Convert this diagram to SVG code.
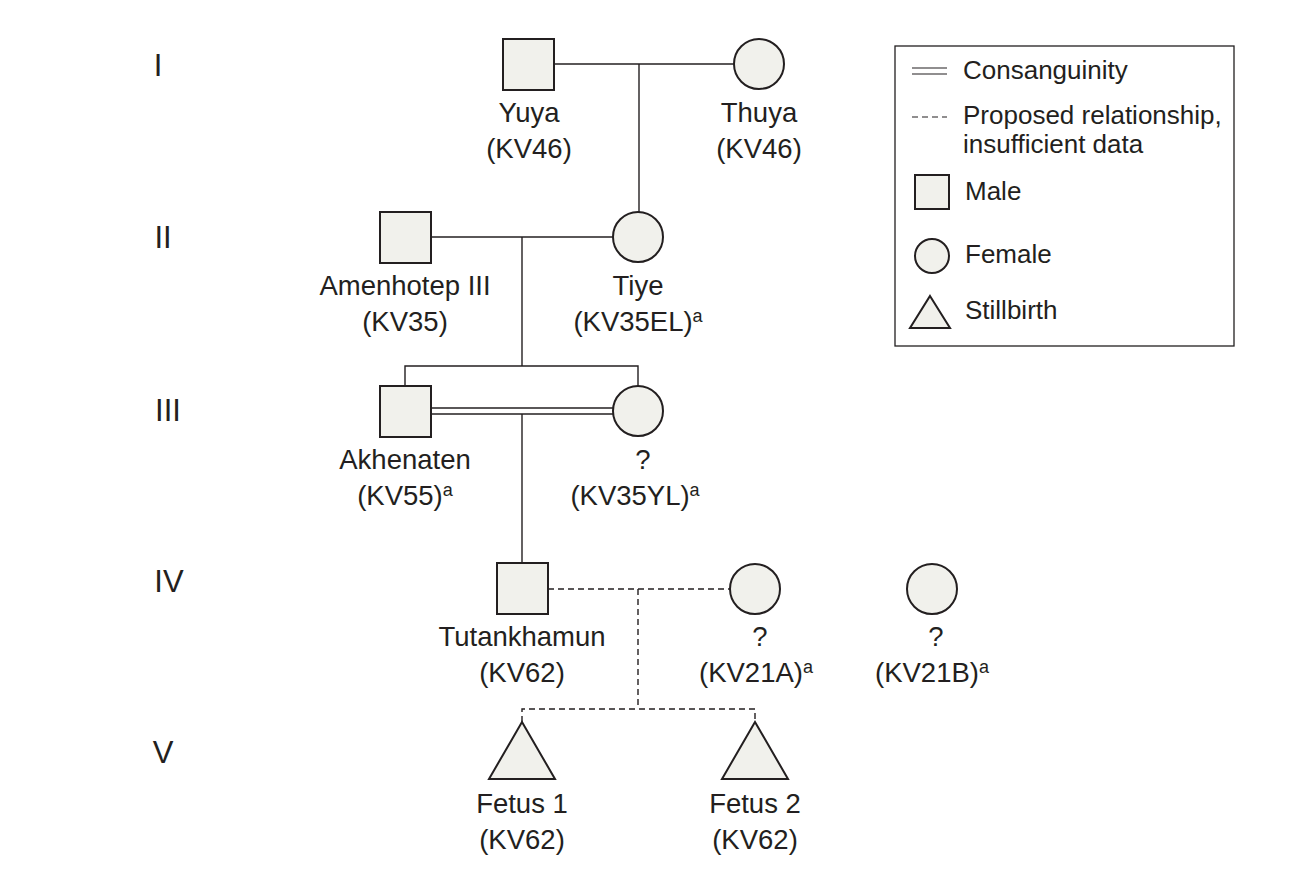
<svg xmlns="http://www.w3.org/2000/svg" width="1299" height="889" viewBox="0 0 1299 889">
<style>
text{font-family:"Liberation Sans",Arial,sans-serif;font-size:27.5px;fill:#231f20;text-anchor:middle}
.g{font-size:31px;text-anchor:middle}
.l{text-anchor:start;font-size:26px}
.s{fill:#f1f1ec;stroke:#231f20;stroke-width:2}
.c line,.c path{stroke:#231f20;stroke-width:1.4;fill:none}
.d{stroke-dasharray:6,4}
.sup{font-size:18px}
</style>
<rect width="1299" height="889" fill="#fff"/>
<g id="gens">
<text class="g" x="158" y="76">I</text>
<text class="g" x="163" y="248">II</text>
<text class="g" x="168" y="421">III</text>
<text class="g" x="169" y="592">IV</text>
<text class="g" x="163" y="763">V</text>
</g>
<g class="c" id="connectors">
<line x1="554" y1="64" x2="734" y2="64"/>
<line x1="639" y1="64" x2="639" y2="212"/>
<line x1="431" y1="237" x2="613" y2="237"/>
<line x1="522" y1="237" x2="522" y2="366"/>
<path d="M405 386V366H638V386"/>
<line x1="431" y1="408" x2="613" y2="408"/>
<line x1="431" y1="414" x2="613" y2="414"/>
<line x1="522" y1="414" x2="522" y2="563"/>
<line class="d" x1="548" y1="589" x2="730" y2="589"/>
<line class="d" x1="638" y1="589" x2="638" y2="709"/>
<path class="d" d="M522 722V709H755V722"/>
</g>
<g id="yuya"><rect class="s" x="503" y="39" width="51" height="51"/><text x="529" y="122">Yuya</text><text x="529" y="158">(KV46)</text></g>
<g id="thuya"><circle class="s" cx="759" cy="64" r="25"/><text x="759" y="122">Thuya</text><text x="759" y="158">(KV46)</text></g>
<g id="amenhotep"><rect class="s" x="380" y="212" width="51" height="51"/><text x="405" y="295">Amenhotep III</text><text x="405" y="331">(KV35)</text></g>
<g id="tiye"><circle class="s" cx="638" cy="237" r="25"/><text x="638" y="295">Tiye</text><text x="638" y="331">(KV35EL)<tspan class="sup" dy="-9">a</tspan></text></g>
<g id="akhenaten"><rect class="s" x="380" y="386" width="51" height="51"/><text x="405" y="469">Akhenaten</text><text x="405" y="505">(KV55)<tspan class="sup" dy="-9">a</tspan></text></g>
<g id="kv35yl"><circle class="s" cx="638" cy="411" r="25"/><text x="643" y="469">?</text><text x="635" y="505">(KV35YL)<tspan class="sup" dy="-9">a</tspan></text></g>
<g id="tutankhamun"><rect class="s" x="497" y="563" width="51" height="51"/><text x="522" y="646">Tutankhamun</text><text x="522" y="682">(KV62)</text></g>
<g id="kv21a"><circle class="s" cx="755" cy="589" r="25"/><text x="760" y="646">?</text><text x="756" y="682">(KV21A)<tspan class="sup" dy="-9">a</tspan></text></g>
<g id="kv21b"><circle class="s" cx="932" cy="589" r="25"/><text x="936" y="646">?</text><text x="932" y="682">(KV21B)<tspan class="sup" dy="-9">a</tspan></text></g>
<g id="fetus1"><path class="s" d="M522 722L555 779H489Z"/><text x="522" y="813">Fetus 1</text><text x="522" y="849">(KV62)</text></g>
<g id="fetus2"><path class="s" d="M755 722L788 779H722Z"/><text x="755" y="813">Fetus 2</text><text x="755" y="849">(KV62)</text></g>
<g id="legend">
<rect x="895" y="46" width="339" height="300" fill="#fff" stroke="#231f20" stroke-width="1.3"/>
<line x1="912" y1="68" x2="947" y2="68" stroke="#231f20" stroke-width="1.2"/>
<line x1="912" y1="74" x2="947" y2="74" stroke="#231f20" stroke-width="1.2"/>
<line class="d" x1="912" y1="117" x2="947" y2="117" stroke="#231f20" stroke-width="1.2"/>
<text class="l" x="963" y="79">Consanguinity</text>
<text class="l" x="963" y="124">Proposed relationship,</text>
<text class="l" x="963" y="153">insufficient data</text>
<rect class="s" x="915" y="175" width="34" height="34"/>
<text class="l" x="965" y="200">Male</text>
<circle class="s" cx="932" cy="256" r="17"/>
<text class="l" x="965" y="263">Female</text>
<path class="s" d="M930 296L950 328H910Z"/>
<text class="l" x="965" y="319">Stillbirth</text>
</g>
</svg>
